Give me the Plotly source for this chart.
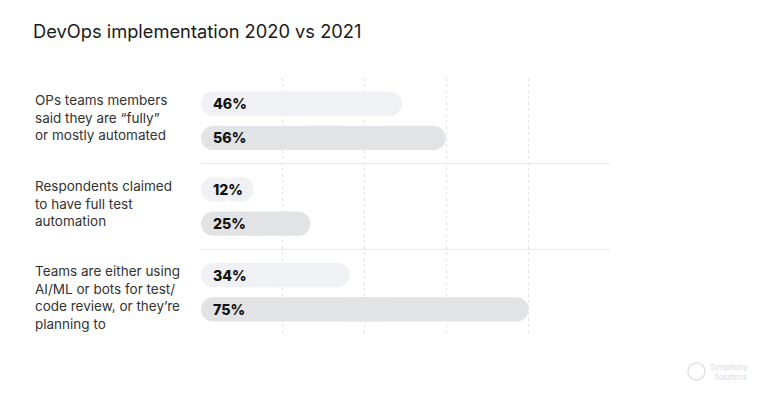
import plotly.graph_objects as go

categories = [
    "OPs teams members<br>said they are “fully”<br>or mostly automated",
    "Respondents claimed<br>to have full test<br>automation",
    "Teams are either using<br>AI/ML or bots for test/<br>code review, or they’re<br>planning to",
]
cat_ids = ["c1", "c2", "c3"]
values_2020 = [46, 12, 34]
values_2021 = [56, 25, 75]
grid_step = 18.75

col_2020 = "#f0f1f4"
col_2021 = "#e2e3e5"

W, H = 760, 387
L, R, T, B = 193, 158, 70, 60
PW, PH = W - L - R, H - T - B

def px_x(x):
    return (x - L) / PW

def px_y(y):
    return (H - B - y) / PH

fig = go.Figure()

def add_rounded(vals, color, group, name):
    fig.add_trace(go.Bar(
        y=cat_ids, x=[v * 0.6 for v in vals], base=[v * 0.4 for v in vals],
        orientation="h", marker=dict(color=color, line=dict(width=0)),
        offsetgroup=group, name=name, showlegend=False, hoverinfo="skip"))
    fig.add_trace(go.Bar(
        y=cat_ids, x=[-v * 0.6 for v in vals], base=[v * 0.6 for v in vals],
        orientation="h", marker=dict(color=color, line=dict(width=0)),
        offsetgroup=group, name=name, showlegend=False, hoverinfo="skip"))

add_rounded(values_2020, col_2020, "a", "2020")
add_rounded(values_2021, col_2021, "b", "2021")

annotations = []
for cid, label in zip(cat_ids, categories):
    annotations.append(dict(
        x=px_x(25), xref="paper", y=cid, yref="y", xanchor="left", yanchor="top",
        align="left", text=label, showarrow=False, yshift=31,
        font=dict(family="Inter", size=13.5, color="#333333")))
for cid, v20, v21 in zip(cat_ids, values_2020, values_2021):
    for v, ys in ((v20, 17), (v21, -17)):
        annotations.append(dict(
            x=0, xref="x", y=cid, yref="y", xanchor="left", yanchor="middle",
            text=f"{v}%", showarrow=False, xshift=10, yshift=ys,
            font=dict(family="Inter", size=14.2, color="#111111", weight=800)))

annotations.append(dict(
    x=px_x(700), y=px_y(364), xref="paper", yref="paper", showarrow=False,
    xanchor="left", yanchor="middle", text="Symphony<br>  Solutions", align="left",
    font=dict(family="Inter", size=7.5, color="#d6d9de")))

fig.update_layout(
    width=W, height=H,
    paper_bgcolor="white", plot_bgcolor="white",
    margin=dict(l=L, r=R, t=T, b=B, autoexpand=False),
    barmode="group", bargap=0.2, bargroupgap=0.294,
    barcornerradius=12,
    title=dict(text="DevOps implementation 2020 vs 2021", x=25 / W, xanchor="left",
               xref="container", y=1 - 24 / H, yanchor="middle", yref="container",
               font=dict(family="Inter", size=18.3, color="#1a1a1a")),
    xaxis=dict(range=[0, 93.6], tick0=0, dtick=grid_step, showgrid=True,
               gridcolor="#e4e4e4", griddash="dot", gridwidth=1,
               showticklabels=False, zeroline=False, showline=False, ticks=""),
    yaxis=dict(categoryorder="array", categoryarray=cat_ids, autorange="reversed",
               showticklabels=False, showgrid=False, zeroline=False, ticks=""),
    showlegend=False,
    annotations=annotations,
    shapes=[
        dict(type="line", xref="paper", x0=0, x1=1, yref="y", y0=0.5, y1=0.5,
             line=dict(color="#e8e8e8", width=1)),
        dict(type="line", xref="paper", x0=0, x1=1, yref="y", y0=1.5, y1=1.5,
             line=dict(color="#e8e8e8", width=1)),
        dict(type="circle", xref="paper", yref="paper",
             x0=px_x(680), x1=px_x(697), y0=px_y(372), y1=px_y(355),
             line=dict(color="#dfe2e6", width=1.5), fillcolor="rgba(0,0,0,0)"),
    ],
)

fig.write_html("out.html")
